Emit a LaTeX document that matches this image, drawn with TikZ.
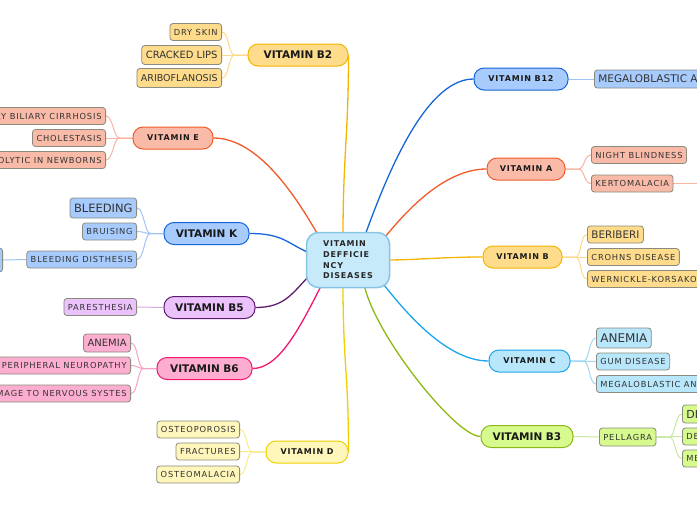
\documentclass[tikz,border=0pt]{standalone}
\usepackage{fontspec}
\setmainfont{DejaVu Sans}
\newfontfamily\widefont[LetterSpace=10]{DejaVu Sans}
\usetikzlibrary{backgrounds}

\definecolor{yelfill}{HTML}{FEDC8C}\definecolor{yelline}{HTML}{F5B400}\definecolor{yellight}{HTML}{FDD98A}
\definecolor{salfill}{HTML}{F9BBA8}\definecolor{salline}{HTML}{F25A28}\definecolor{sallight}{HTML}{F8B4A0}
\definecolor{blufill}{HTML}{A8CBFD}\definecolor{bluline}{HTML}{1565D8}\definecolor{blulight}{HTML}{A0C4F5}
\definecolor{purfill}{HTML}{EBC2FB}\definecolor{purline}{HTML}{5E1A6E}\definecolor{purlight}{HTML}{D4AEE0}
\definecolor{pinfill}{HTML}{FDAED0}\definecolor{pinline}{HTML}{F3156E}\definecolor{pinlight}{HTML}{F8A0C8}
\definecolor{lemfill}{HTML}{FEF6BA}\definecolor{lemline}{HTML}{F0D000}\definecolor{lemlight}{HTML}{F8EA90}
\definecolor{cyafill}{HTML}{B8E6FB}\definecolor{cyaline}{HTML}{1AA5EC}\definecolor{cyalight}{HTML}{A0D8F4}
\definecolor{grnfill}{HTML}{D6FA8E}\definecolor{grnline}{HTML}{8CB814}\definecolor{grnlight}{HTML}{C8E6A0}
\definecolor{rootfill}{HTML}{C7EAFB}\definecolor{rootline}{HTML}{86C4E6}
\definecolor{leafline}{HTML}{8A8A7E}

\begin{document}
\begin{tikzpicture}[x=1pt, y=-1pt,
    root/.style={draw=rootline, fill=rootfill, line width=1.5pt, rounded corners=12pt,
      minimum width=83, minimum height=55, align=left, text=black!85,
      font=\widefont\bfseries\fontsize{8}{10.7}\selectfont},
    vit/.style={draw=#1line, fill=#1fill, line width=1pt, rounded corners=10pt,
      minimum height=22, inner sep=0pt, text=black!90},
    vitbig/.style={font=\bfseries\fontsize{10.5}{12}\selectfont},
    vitsmall/.style={font=\widefont\bfseries\fontsize{8}{10}\selectfont},
    leaf/.style={draw=leafline, fill=#1fill, line width=0.8pt, rounded corners=3pt,
      minimum height=17, inner xsep=4pt, inner ysep=0pt, text=black!80,
      font=\widefont\fontsize{8.3}{10}\selectfont},
    bigleaf/.style={font=\fontsize{#1}{#1}\selectfont, minimum height=19},
    branch/.style={draw=#1line, line width=1.3pt},
    twig/.style={draw=#1light, line width=1pt}]
  \useasboundingbox (0,0) rectangle (697,520);
  \clip (0,0) rectangle (697,520);

  % centre
  \node[root] (root) at (348,260) {VITAMIN\\DEFFICIE\\NCY\\DISEASES};

  % vitamins, left side
  \node[vit=yel, vitbig, minimum width=100] (b2) at (298,55) {VITAMIN B2};
  \node[vit=sal, vitsmall, minimum width=80] (ve) at (173,138) {VITAMIN E};
  \node[vit=blu, vitbig, minimum width=85] (vk) at (206.5,233.5) {VITAMIN K};
  \node[vit=pur, vitbig, minimum width=91] (b5) at (209.5,307.5) {VITAMIN B5};
  \node[vit=pin, vitbig, minimum width=95] (b6) at (204.5,368.5) {VITAMIN B6};
  \node[vit=lem, vitsmall, minimum width=82] (vd) at (307,452) {VITAMIN D};
  % vitamins, right side
  \node[vit=blu, vitsmall, minimum width=94] (b12) at (521,79) {VITAMIN B12};
  \node[vit=sal, vitsmall, minimum width=78] (va) at (526,169) {VITAMIN A};
  \node[vit=yel, vitsmall, minimum width=79] (vb) at (522.5,257) {VITAMIN B};
  \node[vit=cya, vitsmall, minimum width=81] (vc) at (529.5,361) {VITAMIN C};
  \node[vit=grn, vitbig, minimum width=92] (b3) at (527,436.5) {VITAMIN B3};

  % diseases, left side
  \node[leaf=yel, anchor=east] (dryskin) at (222,32) {DRY SKIN};
  \node[leaf=yel, bigleaf=10, anchor=east] (crackedlips) at (222,55) {CRACKED LIPS};
  \node[leaf=yel, bigleaf=9.5, anchor=east] (ariboflanosis) at (222,78) {ARIBOFLANOSIS};
  \node[leaf=sal, anchor=east] (biliary) at (106,116) {PRIMARY BILIARY CIRRHOSIS};
  \node[leaf=sal, anchor=east] (cholestasis) at (106,138) {CHOLESTASIS};
  \node[leaf=sal, anchor=east] (hemolytic) at (106,160) {HEMOLYTIC IN NEWBORNS};
  \node[leaf=blu, bigleaf=11.5, minimum height=20, anchor=east] (bleeding) at (137,208) {BLEEDING};
  \node[leaf=blu, anchor=east] (bruising) at (137,231.5) {BRUISING};
  \node[leaf=blu, anchor=east] (disthesis) at (137,259.5) {BLEEDING DISTHESIS};
  \node[leaf=blu, anchor=east, minimum width=40, minimum height=24] (disthchild) at (3,260) {};
  \node[leaf=pur, anchor=east] (paresthesia) at (137,307) {PARESTHESIA};
  \node[leaf=pin, bigleaf=10, minimum height=18, anchor=east] (anemiasix) at (131,343) {ANEMIA};
  \node[leaf=pin, anchor=east] (neuropathy) at (131,365.5) {PERIPHERAL NEUROPATHY};
  \node[leaf=pin, anchor=east] (damage) at (131,393.5) {DAMAGE TO NERVOUS SYSTES};
  \node[leaf=lem, anchor=east] (osteoporosis) at (240,429.5) {OSTEOPOROSIS};
  \node[leaf=lem, anchor=east] (fractures) at (240,451.5) {FRACTURES};
  \node[leaf=lem, anchor=east] (osteomalacia) at (240,474.5) {OSTEOMALACIA};

  % diseases, right side
  \node[leaf=blu, bigleaf=10.5, minimum height=18, anchor=west] (megab12) at (594,79) {MEGALOBLASTIC ANEMIA};
  \node[leaf=sal, anchor=west] (nightblind) at (591,155) {NIGHT BLINDNESS};
  \node[leaf=sal, anchor=west] (kertomalacia) at (591,183.5) {KERTOMALACIA};
  \coordinate (kertochild) at (710,183.5);
  \node[leaf=yel, bigleaf=10.4, minimum height=17, anchor=west] (beriberi) at (587,234.5) {BERIBERI};
  \node[leaf=yel, anchor=west] (crohns) at (587,257) {CROHNS DISEASE};
  \node[leaf=yel, anchor=west] (wernickle) at (587,279) {WERNICKLE-KORSAKOFF SYNDROME};
  \node[leaf=cya, bigleaf=12, minimum height=20, anchor=west] (anemiac) at (596,338) {ANEMIA};
  \node[leaf=cya, anchor=west] (gumdisease) at (596,361.5) {GUM DISEASE};
  \node[leaf=cya, anchor=west] (megac) at (596,384) {MEGALOBLASTIC ANEMIA};
  \node[leaf=grn, minimum height=18, anchor=west] (pellagra) at (599,437) {PELLAGRA};
  \node[leaf=grn, bigleaf=11, minimum height=18, text width=50, align=left, anchor=west] (di) at (682,414) {DI};
  \node[leaf=grn, text width=50, align=left, anchor=west] (de) at (682,436.5) {DE};
  \node[leaf=grn, text width=50, align=left, anchor=west] (me) at (682,458.5) {ME};

  \begin{pgfonlayer}{background}
    % main branches
    \draw[branch=yel] (b2.east) .. controls +(0,80) and +(0,-80) .. ([shift={(-5,-24)}]root.center);
    \draw[branch=lem] (vd.east) .. controls +(0,-80) and +(0,80) .. ([shift={(-5,24)}]root.center);
    \draw[branch=sal] (ve.east) .. controls +(45,0) and +(-25,-45) .. ([shift={(-26,-18)}]root.center);
    \draw[branch=blu] (vk.east) .. controls +(35,0) and +(-25,-10) .. ([shift={(-36,-6)}]root.center);
    \draw[branch=pur] (b5.east) .. controls +(30,0) and +(-20,20) .. ([shift={(-36,13)}]root.center);
    \draw[branch=pin] (b6.east) .. controls +(25,0) and +(-25,50) .. ([shift={(-26,24)}]root.center);
    \draw[branch=blu] (b12.west) .. controls +(-50,0) and +(20,-55) .. ([shift={(16,-22)}]root.center);
    \draw[branch=sal] (va.west) .. controls +(-45,0) and +(20,-25) .. ([shift={(33,-18)}]root.center);
    \draw[branch=yel] (vb.west) .. controls +(-40,0) and +(30,0) .. ([shift={(38,0)}]root.center);
    \draw[branch=cya] (vc.west) .. controls +(-45,0) and +(20,25) .. ([shift={(32,20)}]root.center);
    \draw[branch=grn] (b3.west) .. controls +(-25,0) and +(10,50) .. ([shift={(16,24)}]root.center);

    % twigs, left side
    \draw[twig=yel] (b2.west) -- ++(-13,0) .. controls +(-6,0) and +(7,0) .. (dryskin.east);
    \draw[twig=yel] (b2.west) -- (crackedlips.east);
    \draw[twig=yel] (b2.west) -- ++(-13,0) .. controls +(-6,0) and +(7,0) .. (ariboflanosis.east);
    \draw[twig=sal] (ve.west) -- ++(-13,0) .. controls +(-6,0) and +(7,0) .. (biliary.east);
    \draw[twig=sal] (ve.west) -- (cholestasis.east);
    \draw[twig=sal] (ve.west) -- ++(-13,0) .. controls +(-6,0) and +(7,0) .. (hemolytic.east);
    \draw[twig=blu] (vk.west) -- ++(-13,0) .. controls +(-6,0) and +(7,0) .. (bleeding.east);
    \draw[twig=blu] (vk.west) -- ++(-13,0) .. controls +(-6,0) and +(7,0) .. (bruising.east);
    \draw[twig=blu] (vk.west) -- ++(-13,0) .. controls +(-6,0) and +(7,0) .. (disthesis.east);
    \draw[twig=blu] (disthesis.west) -- (disthchild.east);
    \draw[twig=pur] (b5.west) -- (paresthesia.east);
    \draw[twig=pin] (b6.west) -- ++(-13,0) .. controls +(-6,0) and +(7,0) .. (anemiasix.east);
    \draw[twig=pin] (b6.west) -- ++(-13,0) .. controls +(-6,0) and +(7,0) .. (neuropathy.east);
    \draw[twig=pin] (b6.west) -- ++(-13,0) .. controls +(-6,0) and +(7,0) .. (damage.east);
    \draw[twig=lem] (vd.west) -- ++(-13,0) .. controls +(-6,0) and +(7,0) .. (osteoporosis.east);
    \draw[twig=lem] (vd.west) -- (fractures.east);
    \draw[twig=lem] (vd.west) -- ++(-13,0) .. controls +(-6,0) and +(7,0) .. (osteomalacia.east);

    % twigs, right side
    \draw[twig=blu] (b12.east) -- (megab12.west);
    \draw[twig=sal] (va.east) -- ++(13,0) .. controls +(6,0) and +(-7,0) .. (nightblind.west);
    \draw[twig=sal] (va.east) -- ++(13,0) .. controls +(6,0) and +(-7,0) .. (kertomalacia.west);
    \draw[twig=sal] (kertomalacia.east) -- (kertochild);
    \draw[twig=yel] (vb.east) -- ++(13,0) .. controls +(6,0) and +(-7,0) .. (beriberi.west);
    \draw[twig=yel] (vb.east) -- (crohns.west);
    \draw[twig=yel] (vb.east) -- ++(13,0) .. controls +(6,0) and +(-7,0) .. (wernickle.west);
    \draw[twig=cya] (vc.east) -- ++(13,0) .. controls +(6,0) and +(-7,0) .. (anemiac.west);
    \draw[twig=cya] (vc.east) -- (gumdisease.west);
    \draw[twig=cya] (vc.east) -- ++(13,0) .. controls +(6,0) and +(-7,0) .. (megac.west);
    \draw[twig=grn] (b3.east) -- (pellagra.west);
    \draw[twig=grn] (pellagra.east) -- ++(13,0) .. controls +(6,0) and +(-7,0) .. (di.west);
    \draw[twig=grn] (pellagra.east) -- (de.west);
    \draw[twig=grn] (pellagra.east) -- ++(13,0) .. controls +(6,0) and +(-7,0) .. (me.west);
  \end{pgfonlayer}
\end{tikzpicture}
\end{document}
